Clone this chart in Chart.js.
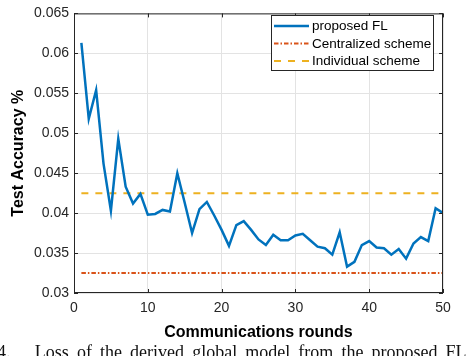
<!DOCTYPE html>
<html><head><meta charset="utf-8">
<script src="https://cdn.jsdelivr.net/npm/chart.js@4.4.0/dist/chart.umd.min.js"></script>
<style>
html,body{margin:0;padding:0;background:#fff;overflow:hidden;}
#wrap{position:relative;width:474px;height:356px;}
#caption{position:absolute;left:-3px;top:342px;font-family:"Liberation Serif",serif;font-size:18px;white-space:nowrap;color:#111;word-spacing:3.6px;}
</style></head><body>
<div id="wrap"><canvas id="c" width="474" height="356"></canvas>
<div id="caption">4. &nbsp; Loss of the derived global model from the proposed FL</div></div>
<script>
const rounds = [1,2,3,4,5,6,7,8,9,10,11,12,13,14,15,16,17,18,19,20,21,22,23,24,25,26,27,28,29,30,31,32,33,34,35,36,37,38,39,40,41,42,43,44,45,46,47,48,49,50];
const proposedFL = [0.0613,0.0518,0.0554,0.0462,0.0403,0.0493,0.0433,0.0412,0.0424,0.0398,
  0.0399,0.0404,0.0402,0.0450,0.0413,0.0375,0.0405,0.0414,0.0397,0.0379,
  0.0359,0.0385,0.0390,0.0379,0.0367,0.0360,0.0373,0.0366,0.0366,0.0372,
  0.0374,0.0366,0.0358,0.0356,0.0348,0.0376,0.0333,0.0339,0.0360,0.0365,
  0.0357,0.0356,0.0348,0.0355,0.0343,0.0362,0.0370,0.0365,0.0406,0.0400];
const centralizedLevel = 0.0325;
const individualLevel = 0.0425;
const seriesNames = ['proposed FL','Centralized scheme','Individual scheme'];
const xTicks = [0,10,20,30,40,50];
const yTicks = [0.03,0.035,0.04,0.045,0.05,0.055,0.06,0.065];

const BLUE='#0072BD', RED='#D95319', YEL='#EDB120', AX='#262626';
const pts = rounds.map((r,i)=>({x:r,y:proposedFL[i]}));
const cen = rounds.map(r=>({x:r,y:centralizedLevel}));
const ind = rounds.map(r=>({x:r,y:individualLevel}));

const boxPlugin = {
  id:'boxPlugin',
  afterDatasetsDraw(chart){
    const {ctx, chartArea:a, scales:{x,y}} = chart;
    ctx.save();
    ctx.strokeStyle=AX; ctx.lineWidth=1;
    ctx.strokeRect(a.left+0.5,a.top+0.5,a.right-a.left-1,a.bottom-a.top-1);
    const tl=4;
    ctx.beginPath();
    xTicks.forEach(v=>{const p=Math.round(x.getPixelForValue(v))+0.5;
      ctx.moveTo(p,a.bottom); ctx.lineTo(p,a.bottom-tl);
      ctx.moveTo(p,a.top); ctx.lineTo(p,a.top+tl);});
    yTicks.forEach(v=>{const p=Math.round(y.getPixelForValue(v))+0.5;
      ctx.moveTo(a.left,p); ctx.lineTo(a.left+tl,p);
      ctx.moveTo(a.right,p); ctx.lineTo(a.right-tl,p);});
    ctx.stroke();
    // legend
    const L=271,T=15,R=434,B=71;
    ctx.fillStyle='#fff'; ctx.fillRect(L,T,R-L,B-T);
    ctx.strokeStyle=AX; ctx.lineWidth=1; ctx.strokeRect(L+0.5,T+0.5,R-L-1,B-T-1);
    const ys=[26,43.5,61];
    const ds=chart.data.datasets;
    ctx.font='13.5px "Liberation Sans", Arial, sans-serif';
    ctx.textBaseline='middle'; ctx.textAlign='left';
    ds.forEach((d,i)=>{
      ctx.beginPath(); ctx.strokeStyle=d.borderColor; ctx.lineWidth=d.borderWidth;
      ctx.setLineDash(d.borderDash||[]);
      ctx.moveTo(274,ys[i]); ctx.lineTo(309,ys[i]); ctx.stroke();
      ctx.setLineDash([]);
      ctx.fillStyle='#000'; ctx.fillText(d.label,312,ys[i]+0.5);
    });
    ctx.restore();
  }
};

new Chart(document.getElementById('c'),{
  type:'line',
  data:{datasets:[
    {label:seriesNames[0],data:pts,borderColor:BLUE,borderWidth:2.5,pointRadius:0,tension:0,order:1},
    {label:seriesNames[1],data:cen,borderColor:RED,borderWidth:2,borderDash:[4.5,2,1.5,2],pointRadius:0,order:2},
    {label:seriesNames[2],data:ind,borderColor:YEL,borderWidth:2,borderDash:[7,7],pointRadius:0,order:3}
  ]},
  options:{
    responsive:false,animation:false,
    layout:{padding:{top:5,right:31,left:0,bottom:0}},
    plugins:{legend:{display:false},tooltip:{enabled:false}},
    scales:{
      x:{type:'linear',min:0,max:50,
        afterBuildTicks(s){s.ticks=xTicks.map(v=>({value:v}));},
        afterFit(s){s.height=63;},
        grid:{color:'#e3e3e3',drawTicks:false},border:{display:false},
        ticks:{padding:7,color:AX,font:{family:'"Liberation Sans", Arial, sans-serif',size:14},maxRotation:0},
        title:{display:true,text:'Communications rounds',color:'#000',font:{family:'"Liberation Sans", Arial, sans-serif',size:16,weight:'bold'},padding:{top:0,bottom:14}}
      },
      y:{type:'linear',min:0.03,max:0.065,
        afterBuildTicks(s){s.ticks=yTicks.map(v=>({value:v}));},
        afterFit(s){s.width=74;},
        grid:{color:'#e3e3e3',drawTicks:false},border:{display:false},
        ticks:{padding:5,color:AX,font:{family:'"Liberation Sans", Arial, sans-serif',size:14},
          callback:v=>String(+v.toFixed(3))},
        title:{display:true,text:'Test Accuracy %',color:'#000',font:{family:'"Liberation Sans", Arial, sans-serif',size:16,weight:'bold'},padding:{top:9,bottom:0}}
      }
    }
  },
  plugins:[boxPlugin]
});
</script></body></html>
